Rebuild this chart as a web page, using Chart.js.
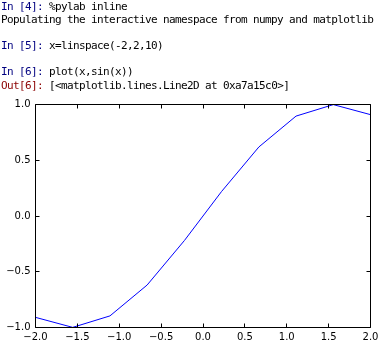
<!DOCTYPE html>
<html>
<head>
<meta charset="utf-8">
<script src="https://cdn.jsdelivr.net/npm/chart.js@4/dist/chart.umd.min.js"></script>
<style>
  html, body { margin: 0; padding: 0; background: #fff; width: 388px; height: 352px; overflow: hidden; }
  #wrap { position: relative; width: 388px; height: 352px; }
  #cells { position: absolute; left: 1px; top: 0px; margin: 0; font-family: "DejaVu Sans Mono", monospace; font-size: 11px; letter-spacing: -0.62px; line-height: 13.1px; color: #000; white-space: pre; z-index: 2; }
  .in { color: #000080; }
  .out { color: #8b0000; }
  .num { color: #098658; }
  #cv { position: absolute; left: 0; top: 0; z-index: 1; }
</style>
</head>
<body>
<div id="wrap">
<pre id="cells"><span class="in">In [4]: </span>%pylab inline
Populating the interactive namespace from numpy and matplotlib

<span class="in">In [5]: </span>x=linspace(-2,2,10)

<span class="in">In [6]: </span>plot(x,sin(x))
<span class="out">Out[6]: </span>[&lt;matplotlib.lines.Line2D at 0xa7a15c0&gt;]</pre>
<canvas id="cv" width="388" height="352"></canvas>
</div>
<script>
// Data
const xValues = [-2.0, -1.556, -1.111, -0.667, -0.222, 0.222, 0.667, 1.111, 1.556, 2.0];
const yValues = [-0.909, -0.999, -0.896, -0.619, -0.220, 0.220, 0.619, 0.896, 0.999, 0.909];
const xTicks = [-2.0, -1.5, -1.0, -0.5, 0.0, 0.5, 1.0, 1.5, 2.0];
const yTicks = [-1.0, -0.5, 0.0, 0.5, 1.0];

const points = xValues.map((x, i) => ({ x: x, y: yValues[i] }));
const fmt = v => Number(v).toFixed(1).replace('-', '\u2212');

const framePlugin = {
  id: 'frame',
  afterDraw(chart) {
    const ctx = chart.ctx;
    const a = chart.chartArea;
    const sx = chart.scales.x, sy = chart.scales.y;
    const snap = p => Math.round(p - 0.5) + 0.5;
    ctx.save();
    ctx.strokeStyle = '#000';
    ctx.lineWidth = 1;
    ctx.beginPath();
    ctx.rect(a.left, a.top, a.right - a.left, a.bottom - a.top);
    ctx.stroke();
    const L = 4;
    ctx.beginPath();
    xTicks.forEach(v => {
      const px = snap(sx.getPixelForValue(v));
      ctx.moveTo(px, a.bottom); ctx.lineTo(px, a.bottom - L);
      ctx.moveTo(px, a.top); ctx.lineTo(px, a.top + L);
    });
    yTicks.forEach(v => {
      const py = snap(sy.getPixelForValue(v));
      ctx.moveTo(a.left, py); ctx.lineTo(a.left + L, py);
      ctx.moveTo(a.right, py); ctx.lineTo(a.right - L, py);
    });
    ctx.stroke();
    ctx.restore();
  }
};

new Chart(document.getElementById('cv'), {
  type: 'line',
  data: {
    datasets: [{
      data: points,
      borderColor: '#0000ff',
      borderWidth: 1,
      pointRadius: 0,
      tension: 0,
      fill: false
    }]
  },
  options: {
    responsive: false,
    animation: false,
    layout: { padding: { top: 104.5, right: 17.5, left: 0, bottom: 0 } },
    plugins: { legend: { display: false }, tooltip: { enabled: false } },
    scales: {
      x: {
        type: 'linear',
        min: -2, max: 2,
        afterBuildTicks: s => { s.ticks = xTicks.map(v => ({ value: v })); },
        afterFit: s => { s.height = 24.5; },
        grid: { display: false, drawTicks: false },
        border: { display: false },
        ticks: { padding: 4, color: '#000', font: { family: 'DejaVu Sans', size: 10 }, maxRotation: 0, autoSkip: false, callback: v => fmt(v) }
      },
      y: {
        type: 'linear',
        min: -1, max: 1,
        afterBuildTicks: s => { s.ticks = yTicks.map(v => ({ value: v })); },
        afterFit: s => { s.width = 35.5; },
        grid: { display: false, drawTicks: false },
        border: { display: false },
        ticks: { padding: 5, color: '#000', font: { family: 'DejaVu Sans', size: 10 }, autoSkip: false, callback: v => fmt(v) }
      }
    }
  },
  plugins: [framePlugin]
});
</script>
</body>
</html>
